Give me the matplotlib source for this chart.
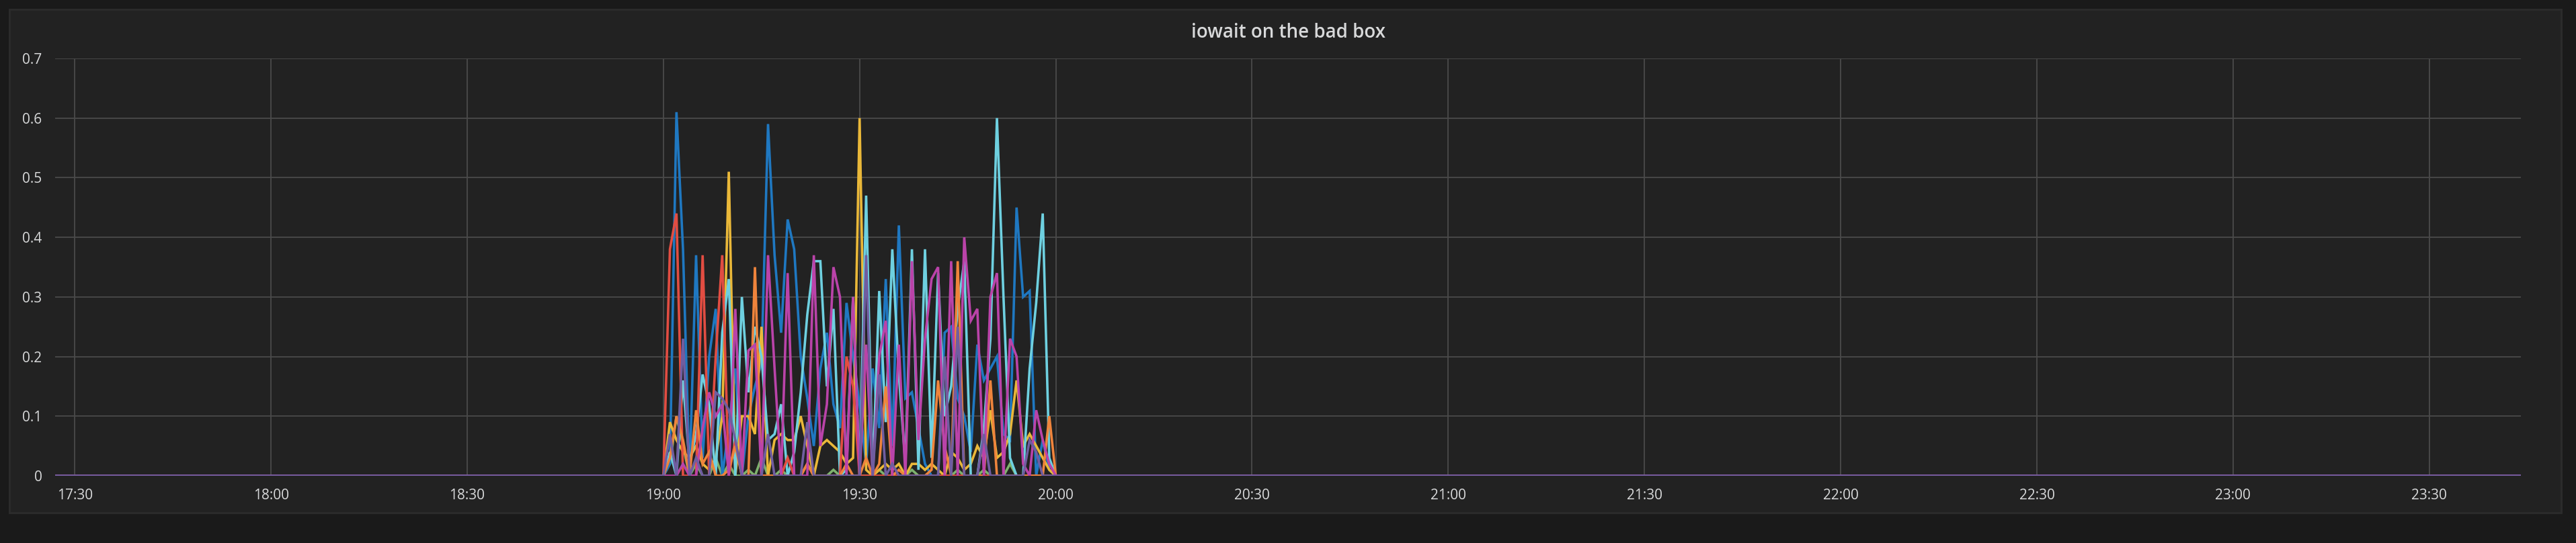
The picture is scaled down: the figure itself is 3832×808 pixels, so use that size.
import matplotlib
matplotlib.use("Agg")
import matplotlib.pyplot as plt
import matplotlib.dates as mdates
from matplotlib.patches import Rectangle
import numpy as np
import datetime as dt

title = "iowait on the bad box"
range_start = "2024-01-01 17:27"
range_end = "2024-01-01 23:44"
burst_start = "2024-01-01 19:00"
y_ticks = [0, 0.1, 0.2, 0.3, 0.4, 0.5, 0.6, 0.7]
y_tick_labels = ["0", "0.1", "0.2", "0.3", "0.4", "0.5", "0.6", "0.7"]

# one value per minute from 19:00 to 20:00 (outside this window all series are 0)
green = [0, 0.02, 0.1, 0.05, 0, 0.02, 0, 0, 0.03, 0, 0.02, 0, 0, 0.01, 0, 0.03, 0, 0, 0.01, 0, 0, 0, 0.02, 0, 0, 0, 0.01, 0, 0, 0, 0, 0, 0, 0.01, 0, 0, 0, 0, 0.01, 0, 0, 0, 0, 0, 0, 0.01, 0, 0, 0, 0.01, 0, 0, 0, 0.02, 0, 0, 0, 0, 0, 0, 0]
blue = [0, 0.02, 0.61, 0.38, 0, 0.37, 0.03, 0.2, 0.28, 0.0, 0.08, 0.18, 0.0, 0.1, 0.15, 0.19, 0.59, 0.37, 0.24, 0.43, 0.38, 0.2, 0.13, 0.05, 0.18, 0.24, 0.12, 0.08, 0.29, 0.2, 0.12, 0.02, 0.18, 0.08, 0.33, 0.05, 0.42, 0.13, 0.14, 0.08, 0.02, 0.0, 0.0, 0.24, 0.25, 0.13, 0.1, 0.04, 0.22, 0.16, 0.18, 0.2, 0.07, 0.06, 0.45, 0.3, 0.31, 0.0, 0.06, 0.01, 0]
yellow = [0, 0.09, 0.06, 0.04, 0.03, 0.05, 0.02, 0.01, 0.03, 0.1, 0.51, 0.0, 0.1, 0.1, 0.07, 0.25, 0.0, 0.06, 0.07, 0.06, 0.06, 0.1, 0.05, 0.0, 0.05, 0.06, 0.05, 0.04, 0.02, 0.03, 0.6, 0.01, 0.0, 0.01, 0.02, 0.01, 0.02, 0.0, 0.02, 0.02, 0.01, 0.02, 0.01, 0.0, 0.04, 0.03, 0.01, 0.02, 0.05, 0.03, 0.11, 0.03, 0.04, 0.07, 0.16, 0.05, 0.07, 0.05, 0.03, 0.01, 0]
cyan = [0, 0.04, 0.0, 0.16, 0.02, 0.07, 0.17, 0.12, 0.0, 0.24, 0.33, 0.0, 0.3, 0.14, 0.25, 0.2, 0.06, 0.07, 0.12, 0.0, 0.04, 0.14, 0.27, 0.36, 0.36, 0.15, 0.28, 0.0, 0.01, 0.3, 0.0, 0.47, 0.0, 0.31, 0.09, 0.38, 0.17, 0.02, 0.38, 0.01, 0.38, 0.03, 0.34, 0.1, 0.15, 0.28, 0.36, 0.0, 0.0, 0.08, 0.23, 0.6, 0.3, 0.03, 0.0, 0.0, 0.18, 0.29, 0.44, 0.03, 0]
red = [0, 0.38, 0.44, 0.0, 0.0, 0.0, 0.37, 0.0, 0.2, 0.37, 0.0, 0.06, 0.0, 0.0, 0.0, 0.0, 0.0, 0.0, 0.0, 0.03, 0.0, 0.0, 0.02, 0.0, 0.0, 0.0, 0.0, 0.0, 0.2, 0.15, 0.0, 0.0, 0.0, 0.0, 0.0, 0.0, 0.0, 0.0, 0.0, 0.0, 0.0, 0.0, 0.0, 0.0, 0.0, 0.0, 0.0, 0.0, 0.0, 0.0, 0.0, 0.0, 0.0, 0.0, 0.0, 0.0, 0.0, 0.0, 0.0, 0.0, 0]
magenta = [0, 0.0, 0.0, 0.02, 0.0, 0.0, 0.08, 0.14, 0.1, 0.12, 0.0, 0.28, 0.0, 0.21, 0.22, 0.0, 0.37, 0.18, 0.0, 0.34, 0.0, 0.0, 0.0, 0.37, 0.05, 0.12, 0.35, 0.3, 0.0, 0.3, 0.0, 0.22, 0.0, 0.2, 0.26, 0.0, 0.22, 0.0, 0.36, 0.06, 0.23, 0.33, 0.35, 0.0, 0.36, 0.0, 0.4, 0.26, 0.28, 0.0, 0.3, 0.34, 0.0, 0.23, 0.2, 0.02, 0.0, 0.11, 0.06, 0.02, 0]
orange = [0, 0.03, 0.1, 0.06, 0.0, 0.11, 0.02, 0.04, 0.0, 0.0, 0.01, 0.05, 0.0, 0.0, 0.35, 0.0, 0.0, 0.0, 0.0, 0.0, 0.0, 0.0, 0.02, 0.0, 0.0, 0.0, 0.0, 0.0, 0.02, 0.0, 0.0, 0.03, 0.0, 0.02, 0.15, 0.0, 0.01, 0.0, 0.0, 0.0, 0.0, 0.01, 0.16, 0.05, 0.0, 0.36, 0.0, 0.0, 0.0, 0.0, 0.16, 0.0, 0.0, 0.0, 0.0, 0.0, 0.0, 0.0, 0.0, 0.1, 0]
purple = [0, 0.07, 0.0, 0.23, 0.0, 0.03, 0.0, 0.0, 0.14, 0.13, 0.11, 0.06, 0.0, 0.0, 0.0, 0.0, 0.07, 0.0, 0.0, 0.0, 0.0, 0.0, 0.09, 0.0, 0.0, 0.0, 0.0, 0.0, 0.0, 0.0, 0.0, 0.37, 0.0, 0.17, 0.0, 0.02, 0.0, 0.0, 0.0, 0.0, 0.0, 0.0, 0.0, 0.2, 0.0, 0.25, 0.0, 0.0, 0.0, 0.07, 0.0, 0.0, 0.0, 0.0, 0.0, 0.0, 0.06, 0.04, 0.0, 0.0, 0]

series = [("green", green, "#7EB26D"), ("blue", blue, "#1F78C1"), ("yellow", yellow, "#EAB839"),
          ("cyan", cyan, "#6ED0E0"), ("red", red, "#E24D42"), ("orange", orange, "#EF843C"),
          ("magenta", magenta, "#BA43A9"), ("purple", purple, "#705DA0")]

t0 = dt.datetime.fromisoformat(range_start)
t1 = dt.datetime.fromisoformat(range_end)
tb = dt.datetime.fromisoformat(burst_start)
n = int((t1 - t0).total_seconds() // 60) + 1
times = [t0 + dt.timedelta(minutes=i) for i in range(n)]
off = int((tb - t0).total_seconds() // 60)

W, H = 3832, 808
fig = plt.figure(figsize=(W / 100, H / 100), dpi=100, facecolor="#1a1a1a")
fig.patches.append(Rectangle((14 / W, 1 - 763 / H), (3810 - 14) / W, (763 - 14) / H,
                             transform=fig.transFigure, facecolor="#222222",
                             edgecolor="#2c2c2c", lw=2, zorder=-5))
ax = fig.add_axes([82 / W, 1 - 708 / H, (3750 - 82) / W, (708 - 87) / H])
ax.set_zorder(2)
ax.set_facecolor("#222222")

for name, vals, col in series:
    full = np.zeros(n)
    full[off:off + len(vals)] = vals
    ax.plot(times, full, color=col, lw=2.6, solid_joinstyle="miter")

ax.set_xlim(t0, t1)
ax.set_ylim(0, 0.7)
ax.set_yticks(y_ticks)
ax.set_yticklabels(y_tick_labels)
ax.xaxis.set_major_locator(mdates.MinuteLocator(byminute=[0, 30]))
ax.xaxis.set_major_formatter(mdates.DateFormatter("%H:%M"))
ax.grid(True, color="#4a4a4a", lw=1.3)
ax.set_axisbelow(True)
for s in ax.spines.values():
    s.set_visible(False)
ax.tick_params(colors="#d8d9da", labelsize=15, length=0, pad=14)
for lbl in ax.get_xticklabels() + ax.get_yticklabels():
    lbl.set_fontfamily("Open Sans")
fig.text(0.5, 1 - 48 / H, title, ha="center", va="center", color="#d8d9da",
         fontsize=20, fontfamily="Open Sans", fontweight="semibold")
fig.savefig("out.png", dpi=100, facecolor=fig.get_facecolor())
